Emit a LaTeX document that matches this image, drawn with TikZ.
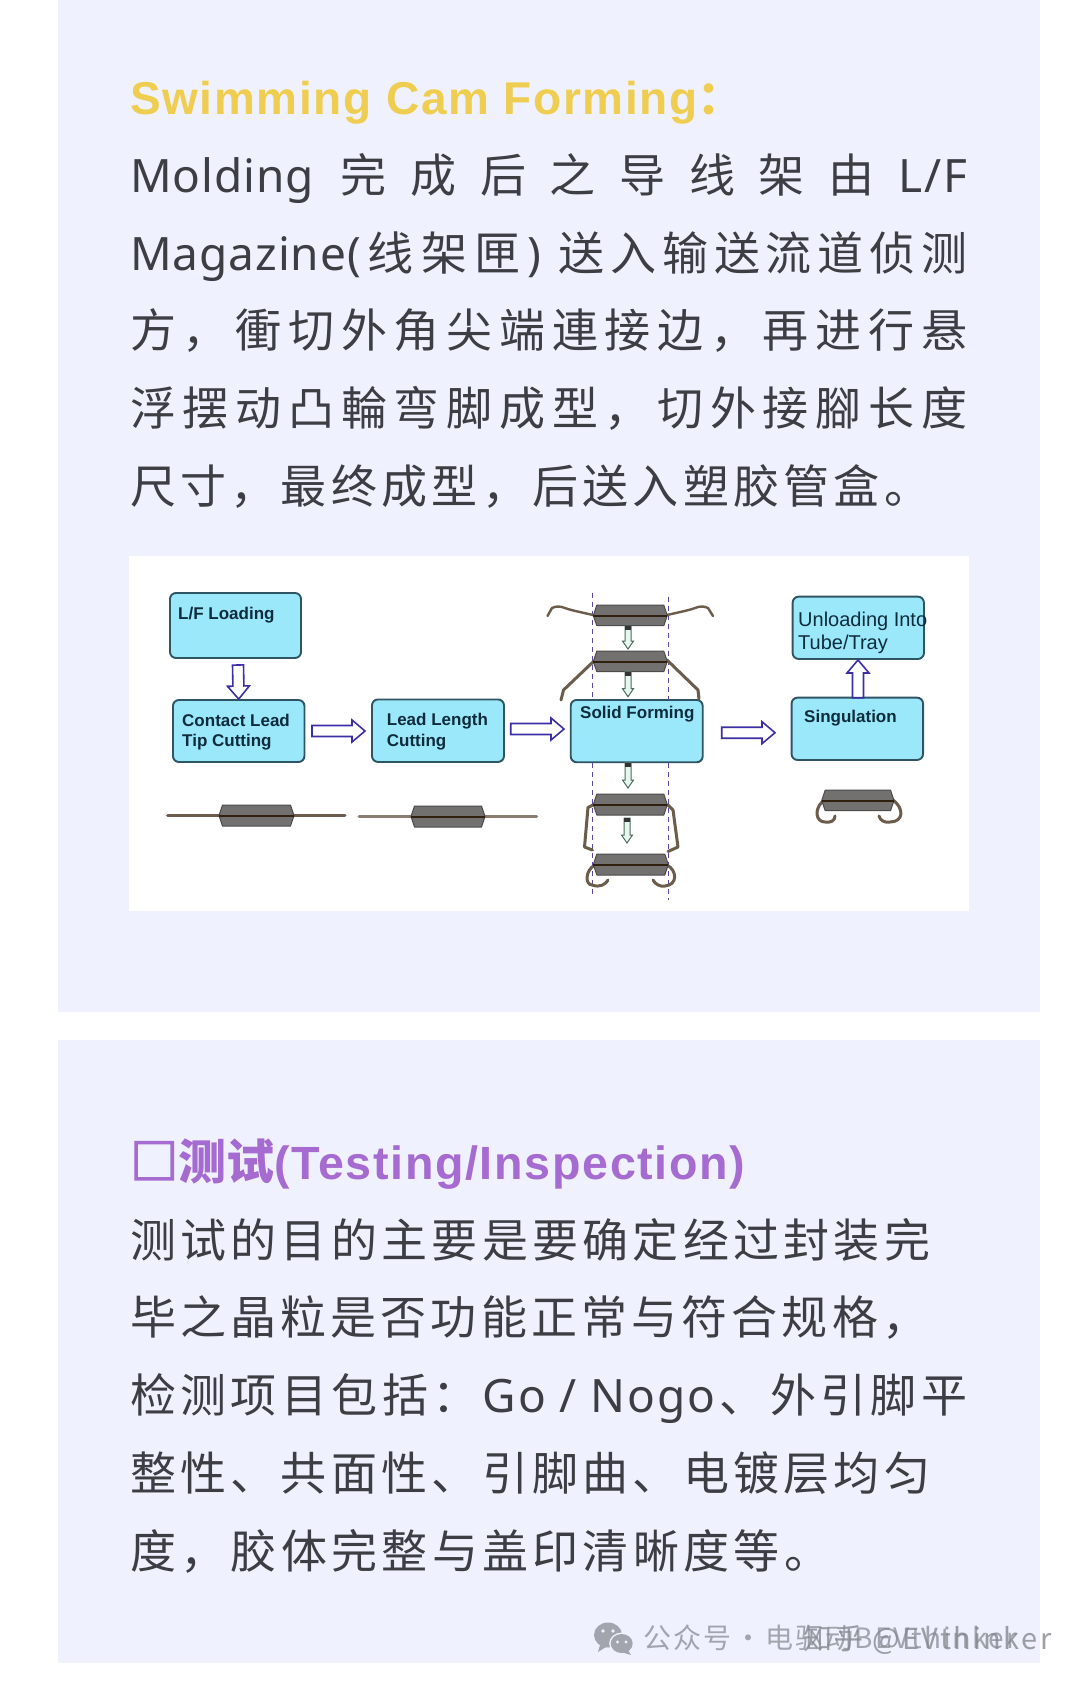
\documentclass[tikz,border=0pt]{standalone}
\usepackage{fontspec}
\usetikzlibrary{calc,shapes.geometric}
\setmainfont{Noto Sans}
\newfontfamily\cjk{Noto Sans CJK SC}
\newfontfamily\cjkbox[FakeBold=2.5]{Noto Sans CJK SC}
\newfontfamily\lat[LetterSpace=2]{Noto Sans}
\newfontfamily\latw[LetterSpace=4]{Noto Sans}
\newfontfamily\latb[LetterSpace=3.6]{Liberation Sans}
\newfontfamily\wmf[LetterSpace=7]{Noto Sans CJK SC}
\newfontfamily\wmg[LetterSpace=8]{Noto Sans CJK SC}
\newfontfamily\arial{Liberation Sans}
\definecolor{panelbg}{HTML}{EFF2FE}
\definecolor{bodytext}{HTML}{3C3E44}
\definecolor{titleyellow}{HTML}{EFCD50}
\definecolor{titlepurple}{HTML}{A66BD0}
\definecolor{boxfill}{HTML}{9BE8FB}
\definecolor{boxline}{HTML}{2F5564}
\definecolor{boxtext}{HTML}{0F2C3C}
\definecolor{arrowblue}{HTML}{3C2FA6}
\definecolor{leadbrown}{HTML}{6B5C4C}
\definecolor{pkgfill}{HTML}{727170}
\definecolor{guide}{HTML}{5E46A8}
\definecolor{wm}{HTML}{A2A5AE}
\definecolor{wmtop}{HTML}{86888F}
\definecolor{thinline}{HTML}{4C6A5E}
\definecolor{thinfill}{HTML}{E6F7F0}
\ExplSyntaxOn
\NewDocumentCommand\JL{mm}{
  \hbox to #1{
    \bool_set_false:N \l_tmpa_bool
    \tl_map_inline:nn {#2}{
      \bool_if:NT \l_tmpa_bool {\hskip 0pt plus 1fil}
      \bool_set_true:N \l_tmpa_bool
      ##1
    }
  }
}
\ExplSyntaxOff
\tikzset{
  x=1pt,y=-1pt,
  para/.style={anchor=base west,inner sep=0pt,text=bodytext,font=\fontsize{46}{46}\selectfont\cjk},
  ttl/.style={anchor=base west,inner sep=0pt,font=\fontsize{46}{46}\selectfont\cjk\bfseries},
  proc/.style={draw=boxline,line width=1.9pt,fill=boxfill,rounded corners=6pt,inner sep=0pt},
  ptext/.style={anchor=west,inner sep=0pt,align=left,text=boxtext,font=\fontsize{17}{20.5}\selectfont\arial\bfseries},
  hollow/.style={draw=arrowblue,line width=1.6pt,fill=white,line join=miter,
    to path={let \p1=(\tikztostart),\p2=(\tikztotarget),\n1={atan2(\y2-\y1,\x2-\x1)},\n2={veclen(\x2-\x1,\y2-\y1)} in
      ([shift={(\p1)},rotate=\n1]0pt,5.5pt) -- ([shift={(\p1)},rotate=\n1]\n2-13pt,5.5pt) -- ([shift={(\p1)},rotate=\n1]\n2-13pt,11pt) -- (\p2)
      -- ([shift={(\p1)},rotate=\n1]\n2-13pt,-11pt) -- ([shift={(\p1)},rotate=\n1]\n2-13pt,-5.5pt) -- ([shift={(\p1)},rotate=\n1]0pt,-5.5pt) -- cycle}},
  thinarrow/.style={draw=thinline,line width=1pt,fill=thinfill,
    to path={let \p1=(\tikztostart),\p2=(\tikztotarget),\n1={atan2(\y2-\y1,\x2-\x1)},\n2={veclen(\x2-\x1,\y2-\y1)} in
      ([shift={(\p1)},rotate=\n1]0pt,3pt) -- ([shift={(\p1)},rotate=\n1]\n2-8pt,3pt) -- ([shift={(\p1)},rotate=\n1]\n2-8pt,5.5pt) -- (\p2)
      -- ([shift={(\p1)},rotate=\n1]\n2-8pt,-5.5pt) -- ([shift={(\p1)},rotate=\n1]\n2-8pt,-3pt) -- ([shift={(\p1)},rotate=\n1]0pt,-3pt) -- cycle}},
  lead/.style={draw=leadbrown,line width=3pt,line cap=round,line join=round},
  pkg/.style={draw=black!70,line width=1pt,fill=pkgfill,line join=round},
  guideline/.style={draw=guide,line width=1.3pt,dash pattern=on 5pt off 4pt},
}
\newcommand\package[5]{% name, x1, x2, ytop, ybottom
  \draw[pkg] (#2,#4+10.5) -- (#2+3.5,#4) -- (#3-3.5,#4) -- (#3,#4+10.5) -- (#3-3.5,#5) -- (#2+3.5,#5) -- cycle;
  \draw[black!75!brown,line width=2pt] (#2,#4+10.5) -- (#3,#4+10.5);
  \coordinate (#1L) at (#2,#4+10.5);
  \coordinate (#1R) at (#3,#4+10.5);
}
\begin{document}
\begin{tikzpicture}
\useasboundingbox (0,0) rectangle (1080,1682);
\fill[white] (0,0) rectangle (1080,1682);
\fill[panelbg] (58,0) rectangle (1040,1012);
\fill[panelbg] (58,1040) rectangle (1040,1663);
% first panel text
\node[ttl,text=titleyellow] (t1) at (130,114.5) {{\latb\bfseries Swimming Cam Forming}：};
\node[para] (l1) at (130,192) {\JL{837pt}{{{\lat Molding\hskip 3pt}}完成后之导线架由{{\lat L\kern2pt/\kern2pt F}}}};
\node[para] (l2) at (130,270) {\JL{837pt}{{{\JL{411pt}{{{\lat Magazine(}}线架匣{{\lat)}}}\hskip 12pt}}送入输送流道侦测}};
\node[para] (l3) at (130,347) {\JL{837pt}{方，衝切外角尖端連接边，再进行悬}};
\node[para] (l4) at (130,425) {\JL{837pt}{浮摆动凸輪弯脚成型，切外接腳长度}};
\node[para] (l5) at (130,503.5) {\JL{800pt}{尺寸，最终成型，后送入塑胶管盒。}};
% diagram
\fill[white] (128.5,556) rectangle (969,911);
\node[proc,minimum width=131pt,minimum height=65pt] (lf) at (235.5,625.5) {};
\node[proc,minimum width=131.5pt,minimum height=62pt] (tip) at (238.7,731) {};
\node[proc,minimum width=132pt,minimum height=62.5pt] (len) at (438,730.7) {};
\node[proc,minimum width=132pt,minimum height=62.3pt] (solid) at (636.7,731.1) {};
\node[proc,minimum width=131.5pt,minimum height=62.3pt] (sing) at (857.3,728.8) {};
\node[proc,minimum width=131.3pt,minimum height=62.3pt] (unl) at (858.3,627.8) {};
\node[ptext] (lft) at (178,615.5) {L/F Loading};
\node[ptext] (tipt) at (182,732) {Contact Lead\\Tip Cutting};
\node[ptext] (lent) at (386.7,731.5) {Lead Length\\Cutting};
\node[ptext] (solidt) at (580,714) {Solid Forming};
\node[ptext] (singt) at (804,718.5) {Singulation};
\node[ptext,font=\fontsize{20}{23}\selectfont\arial] (unlt) at (798,632.5) {Unloading Into\\Tube/Tray};
% block arrows
\coordinate (a1) at (238,665);
\path[hollow] (a1) to (tip.north);
\coordinate (a2) at (312,731);
\coordinate (a3) at (365,731);
\path[hollow] (a2) to (a3);
\coordinate (a4) at (510.7,729);
\coordinate (a5) at (564,729);
\path[hollow] (a4) to (a5);
\coordinate (a6) at (721.7,732.7);
\coordinate (a7) at (775,732.7);
\path[hollow] (a6) to (a7);
\coordinate (a8) at (858,697.7);
\coordinate (a9) at (858,660);
\path[hollow] (a8) to (a9);
% guides
\coordinate (g1) at (592.3,592.7); \coordinate (g2) at (592.3,700);
\coordinate (g3) at (668.3,596.7); \coordinate (g4) at (668.3,700);
\coordinate (g5) at (592.7,762.5); \coordinate (g6) at (592.7,896.7);
\coordinate (g7) at (668.3,762.5); \coordinate (g8) at (668.3,900);
\draw[guideline] (g1) -- (g2);
\draw[guideline] (g3) -- (g4);
\draw[guideline] (g5) -- (g6);
\draw[guideline] (g7) -- (g8);
% packages
\draw[lead] (167.7,815.7) -- (345,815.7);
\package{pa}{219}{294}{805}{826}
\draw[lead,draw=leadbrown!80] (359,816.7) -- (536.7,816.7);
\package{pb}{411}{485}{806}{827}
% pc: gull wing flat
\draw[lead,line width=2.4pt] (593,615) .. controls (580,612) and (570,610) .. (565,608) .. controls (560,606) and (556,606) .. (552,608) -- (547.5,616);
\draw[lead,line width=2.4pt] (667,615) .. controls (680,612) and (690,610) .. (695,608) .. controls (700,606) and (704,606) .. (708,608) -- (713,616);
\package{pc}{593.3}{667.3}{605}{625.7}
% pd
\draw[lead] (594,661) -- (563.5,690) -- (561,700);
\draw[lead] (667,660) -- (698,690) -- (699,699);
\package{pd}{593.3}{667.3}{651}{671.7}
% pe
\draw[lead] (593,805) -- (588,807.5) -- (584.5,847) -- (592.5,850);
\draw[lead] (668,805) -- (673,810) -- (678,847) -- (668,851.5);
\package{pe}{593.3}{667.3}{794}{815}
% pf
\draw[lead] (595,865) .. controls (585,870) and (585,885) .. (592,885) .. controls (600,888) and (606,884) .. (608,880);
\draw[lead] (667,865) .. controls (677,870) and (678,885) .. (665,886) .. controls (660,887) and (655,884) .. (653,880);
\package{pf}{593.3}{668.3}{854}{875}
% pg
\draw[lead] (822,802) .. controls (814,810) and (816,822) .. (825,822) .. controls (830,823) and (835,821) .. (835,816);
\draw[lead] (893,800) .. controls (904,808) and (904,822) .. (890,822) .. controls (884,823) and (880,820) .. (879,816);
\package{pg}{821.7}{894}{790}{810.7}
% thin arrows
\coordinate (s1) at (628,626); \coordinate (s2) at (628,649);
\coordinate (s3) at (628,671.7); \coordinate (s4) at (628,696.7);
\coordinate (s5) at (628,762.7); \coordinate (s6) at (628,788);
\coordinate (s7) at (627,818); \coordinate (s8) at (627,843);
\path[thinarrow] (s1) to (s2);
\path[thinarrow] (s3) to (s4);
\path[thinarrow] (s5) to (s6);
\path[thinarrow] (s7) to (s8);
\fill[black!80] (625,626) rectangle (631,630);
\fill[black!80] (625,671.7) rectangle (631,676);
\fill[black!80] (625,762.7) rectangle (631,767);
\fill[black!80] (624,818) rectangle (630,822);
% second panel text
\node[ttl,text=titlepurple] (t2) at (130,1179) {\fontsize{48}{48}\selectfont{\cjkbox □}测试{\fontsize{46.6}{48}\selectfont\latb\bfseries(Testing/Inspection)}};
\node[para] (m1) at (130,1257) {\JL{800pt}{测试的目的主要是要确定经过封装完}};
\node[para] (m2) at (130,1334.5) {\JL{798pt}{毕之晶粒是否功能正常与符合规格，}};
\node[para] (m3) at (130,1412) {\JL{837pt}{检测项目包括：{{\latw Go / Nogo}}、外引脚平}};
\node[para] (m4) at (130,1490.5) {\JL{800pt}{整性、共面性、引脚曲、电镀层均匀}};
\node[para] (m5) at (130,1568.5) {\JL{700pt}{度，胶体完整与盖印清晰度等。}};
% watermark
\fill[wm] (608,1635) ellipse (14pt and 12.5pt);
\fill[wm] (600,1645) -- (598,1652) -- (606,1647) -- cycle;
\fill[panelbg] (621.7,1643.5) ellipse (12.5pt and 11pt);
\fill[wm] (621.7,1643.5) ellipse (11pt and 9.5pt);
\fill[wm] (628,1650) -- (631,1655) -- (621,1652) -- cycle;
\fill[panelbg] (603,1631) circle (1.8pt) (613,1631) circle (1.8pt) (617.5,1642) circle (1.6pt) (626,1642) circle (1.6pt);
\node[anchor=base west,inner sep=0pt,text=wm,font=\fontsize{28}{28}\selectfont\wmf] (wm1) at (643,1648) {公众号\hskip 3pt·\hskip 3pt电驱动BEVthinker};
\node[anchor=base west,inner sep=0pt,text=wmtop,opacity=.8,font=\fontsize{29}{29}\selectfont\wmg] (wm2) at (803,1649) {知乎 @EVthinker};
\end{tikzpicture}
\end{document}
